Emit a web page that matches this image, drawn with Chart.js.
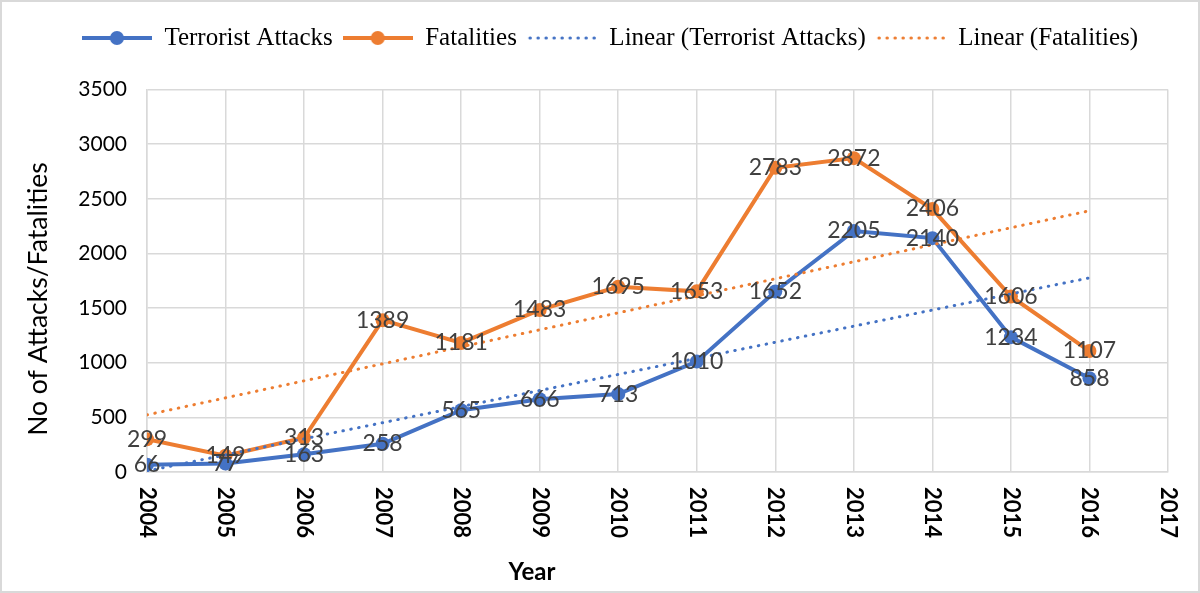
<!DOCTYPE html>
<html>
<head>
<meta charset="utf-8">
<script src="https://cdn.jsdelivr.net/npm/chart.js@4.4.0/dist/chart.umd.min.js"></script>
<style>
  html, body { margin: 0; padding: 0; background: #fff; }
  #wrap { width: 1200px; height: 593px; }
</style>
</head>
<body>
<div id="wrap"><canvas id="chart" width="1200" height="593"></canvas></div>
<script>
// data
const years = [2004, 2005, 2006, 2007, 2008, 2009, 2010, 2011, 2012, 2013, 2014, 2015, 2016];
const xTickLabels = [2004, 2005, 2006, 2007, 2008, 2009, 2010, 2011, 2012, 2013, 2014, 2015, 2016, 2017];
const attacks = [66, 77, 163, 258, 565, 666, 713, 1010, 1652, 2205, 2140, 1234, 858];
const fatalities = [299, 149, 313, 1389, 1181, 1483, 1695, 1653, 2783, 2872, 2406, 1606, 1107];
const seriesNames = ['Terrorist Attacks', 'Fatalities', 'Linear (Terrorist Attacks)', 'Linear (Fatalities)'];

const BLUE = '#4472C4';
const ORANGE = '#ED7D31';

// least squares line like excel's linear trendline
function trend(xs, ys) {
  const n = xs.length;
  const mx = xs.reduce((a, b) => a + b, 0) / n;
  const my = ys.reduce((a, b) => a + b, 0) / n;
  let num = 0, den = 0;
  for (let i = 0; i < n; i++) {
    num += (xs[i] - mx) * (ys[i] - my);
    den += (xs[i] - mx) * (xs[i] - mx);
  }
  const b = num / den;
  const a = my - b * mx;
  return [{x: xs[0], y: a + b * xs[0]}, {x: xs[n - 1], y: a + b * xs[n - 1]}];
}

function pts(ys) {
  return years.map((y, i) => ({x: y, y: ys[i]}));
}

// little canvases for the legend markers
function legendMarker(color, dotted) {
  const c = document.createElement('canvas');
  c.width = 70; c.height = 16;
  const g = c.getContext('2d');
  g.strokeStyle = color;
  g.fillStyle = color;
  if (dotted) {
    g.lineWidth = 3;
    g.lineCap = 'round';
    g.setLineDash([0.5, 7.5]);
    g.beginPath(); g.moveTo(3, 8); g.lineTo(68, 8); g.stroke();
  } else {
    g.lineWidth = 4;
    g.beginPath(); g.moveTo(0, 8); g.lineTo(70, 8); g.stroke();
    g.beginPath(); g.arc(35, 8, 7, 0, Math.PI * 2); g.fill();
  }
  return c;
}
const markers = [legendMarker(BLUE, false), legendMarker(ORANGE, false), legendMarker(BLUE, true), legendMarker(ORANGE, true)];

const frame = {
  id: 'frame',
  beforeDraw(chart) {
    const ctx = chart.ctx;
    ctx.save();
    ctx.fillStyle = '#fff';
    ctx.fillRect(0, 0, chart.width, chart.height);
    ctx.strokeStyle = '#d9d9d9';
    ctx.lineWidth = 2;
    ctx.strokeRect(1, 1, chart.width - 2, chart.height - 2);
    ctx.restore();
  }
};

const legendGap = {
  id: 'legendGap',
  beforeInit(chart) {
    const fit = chart.legend.fit;
    chart.legend.fit = function () {
      fit.bind(chart.legend)();
      this.height += 29;
    };
  },
  afterLayout(chart) {
    // the legend sits a little right of centre in the original
    chart.legend.left += 26;
    chart.legend.right += 26;
  }
};

const labelsAndAxis = {
  id: 'labelsAndAxis',
  afterDatasetsDraw(chart) {
    const ctx = chart.ctx;
    ctx.save();
    ctx.font = '23px Lato';
    ctx.fillStyle = '#404040';
    ctx.textAlign = 'center';
    ctx.textBaseline = 'middle';
    [0, 1].forEach(di => {
      const meta = chart.getDatasetMeta(di);
      const vals = chart.data.datasets[di].data;
      meta.data.forEach((p, i) => {
        ctx.fillText(String(vals[i].y), p.x, p.y);
      });
    });
    ctx.restore();
  },
  afterDraw(chart) {
    const ctx = chart.ctx;
    const xs = chart.scales.x;
    const area = chart.chartArea;
    ctx.save();
    ctx.fillStyle = '#000';
    ctx.font = 'bold 22px Lato';
    ctx.textAlign = 'left';
    ctx.textBaseline = 'middle';
    xTickLabels.forEach(v => {
      ctx.save();
      ctx.translate(xs.getPixelForValue(v), area.bottom + 15);
      ctx.rotate(Math.PI / 2);
      ctx.fillText(String(v), 0, 0);
      ctx.restore();
    });
    ctx.font = 'bold 24px Lato';
    ctx.textAlign = 'center';
    ctx.fillText('Year', 532, 572);
    // y axis title, a bit below the plot middle like the original
    ctx.save();
    ctx.translate(38, 299);
    ctx.rotate(-Math.PI / 2);
    ctx.font = '26.5px Lato';
    ctx.fillText('No of Attacks/Fatalities', 0, 0);
    ctx.restore();
    ctx.restore();
  }
};

new Chart(document.getElementById('chart'), {
  type: 'line',
  data: {
    datasets: [
      {label: seriesNames[0], data: pts(attacks), borderColor: BLUE, backgroundColor: BLUE, borderWidth: 4, pointRadius: 7, pointBorderWidth: 0, order: 2},
      {label: seriesNames[1], data: pts(fatalities), borderColor: ORANGE, backgroundColor: ORANGE, borderWidth: 4, pointRadius: 7, pointBorderWidth: 0, order: 3},
      {label: seriesNames[2], data: trend(years, attacks), borderColor: BLUE, borderWidth: 3, borderDash: [0.5, 7.5], borderCapStyle: 'round', pointRadius: 0, order: 0},
      {label: seriesNames[3], data: trend(years, fatalities), borderColor: ORANGE, borderWidth: 3, borderDash: [0.5, 7.5], borderCapStyle: 'round', pointRadius: 0, order: 1}
    ]
  },
  options: {
    responsive: false,
    animation: false,
    devicePixelRatio: 1,
    layout: {padding: {top: 15.5, right: 32, left: 0, bottom: 0}},
    elements: {line: {tension: 0}},
    plugins: {
      tooltip: {enabled: false},
      legend: {
        position: 'top',
        labels: {
          usePointStyle: true,
          pointStyleWidth: 70,
          boxHeight: 16,
          padding: 10,
          color: '#000',
          font: {family: 'Liberation Serif', size: 25},
          generateLabels(chart) {
            return chart.data.datasets.map((ds, i) => ({
              text: ds.label,
              pointStyle: markers[i],
              datasetIndex: i,
              hidden: false,
              lineWidth: 0,
              fillStyle: 'transparent',
              strokeStyle: 'transparent',
              fontColor: '#000'
            }));
          }
        }
      }
    },
    scales: {
      x: {
        type: 'linear',
        min: 2004,
        max: 2017,
        afterFit(scale) { scale.height = 121; },
        ticks: {display: false, stepSize: 1},
        grid: {color: '#d9d9d9', lineWidth: 1.5, drawTicks: false},
        border: {color: '#d9d9d9', width: 1.5}
      },
      y: {
        min: 0,
        max: 3500,
        afterFit(scale) { scale.width = 147; },
        ticks: {stepSize: 500, padding: 20, color: '#000', font: {family: 'Lato', size: 21}, callback: v => String(v)},
        grid: {color: '#d9d9d9', lineWidth: 1.5, drawTicks: false},
        border: {color: '#d9d9d9', width: 1.5}
      }
    }
  },
  plugins: [frame, legendGap, labelsAndAxis]
});
</script>
</body>
</html>
